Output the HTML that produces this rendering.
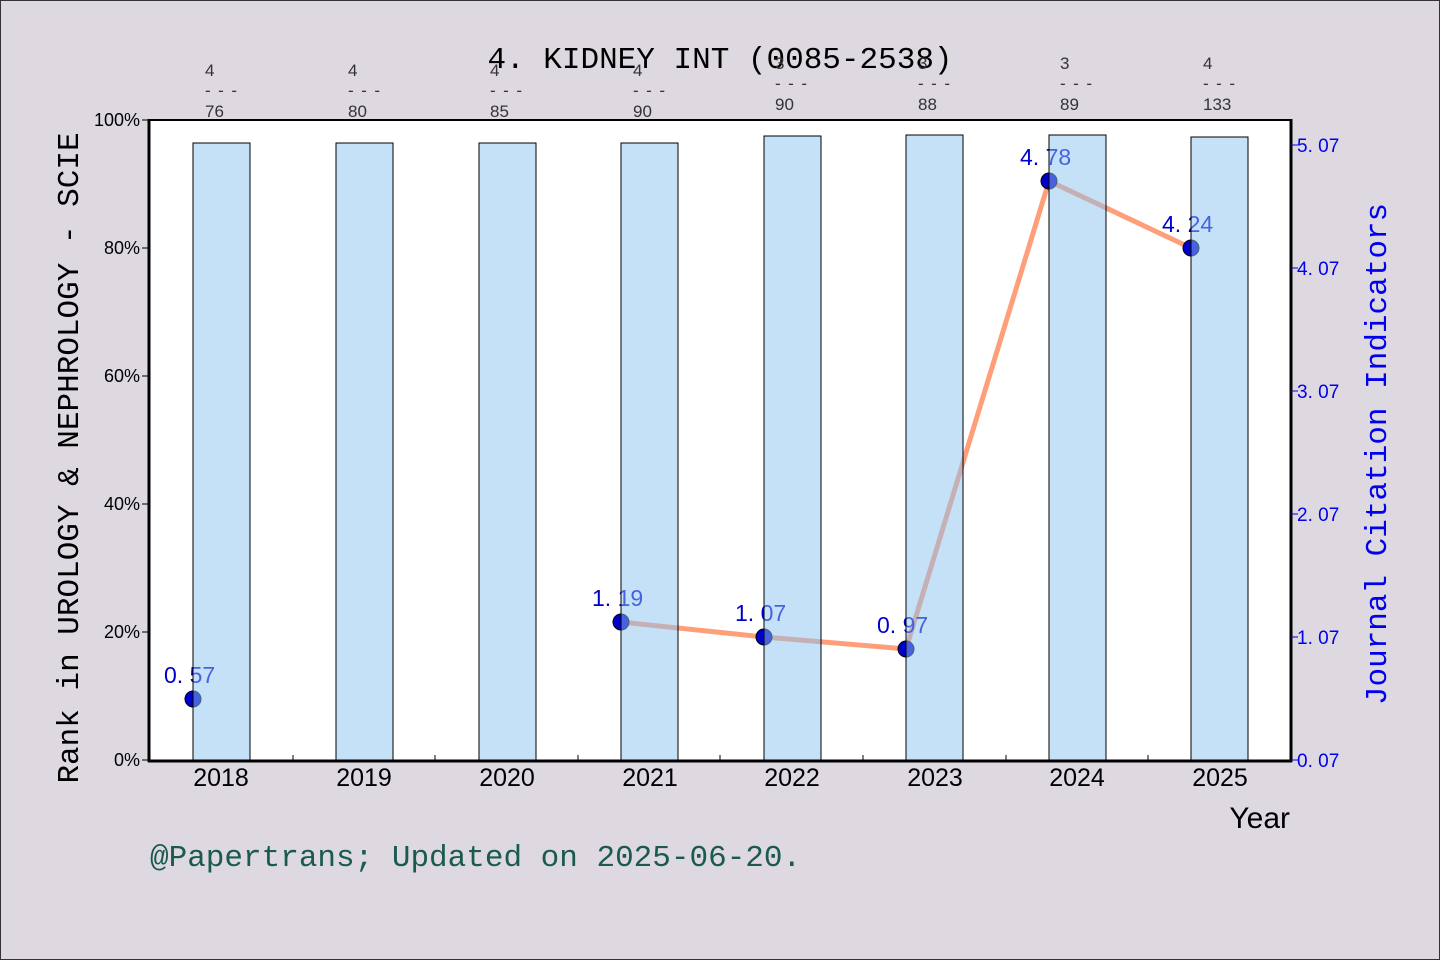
<!DOCTYPE html>
<html><head><meta charset="utf-8"><style>
html,body{margin:0;padding:0;background:#ded9e0;}
svg{display:block;}
</style></head><body>
<svg width="1440" height="960" viewBox="0 0 1440 960" xmlns="http://www.w3.org/2000/svg">
<rect x="0" y="0" width="1440" height="960" fill="#ded9e0" stroke="#333" stroke-width="2"/>
<rect x="149" y="120" width="1142" height="641" fill="#fff"/>
<g font-family="Liberation Mono, monospace">
<text x="720" y="68" font-size="31" text-anchor="middle" fill="#000">4. KIDNEY INT (0085-2538)</text>
<text transform="translate(78,458) rotate(-90)" font-size="31" text-anchor="middle" fill="#000">Rank in UROLOGY &amp; NEPHROLOGY - SCIE</text>
<text transform="translate(1386,454) rotate(-90)" font-size="31" text-anchor="middle" fill="#0000ee">Journal Citation Indicators</text>
<text x="150" y="866" font-size="31" fill="#1a5a50">@Papertrans; Updated on 2025-06-20.</text>
</g>
<polyline points="621,622 764,637 906,649 1049,181 1191,248" fill="none" stroke="#ff9f7a" stroke-width="5"/>
<g fill="#0000cc" stroke="#000" stroke-width="1">
<circle cx="193" cy="699" r="8"/><circle cx="621" cy="622" r="8"/><circle cx="764" cy="637" r="8"/>
<circle cx="906" cy="649" r="8"/><circle cx="1049" cy="181" r="8"/><circle cx="1191" cy="248" r="8"/>
</g>
<g font-family="Liberation Sans, sans-serif" font-size="23" fill="#0000cc">
<text x="164" y="683">0. 57</text><text x="592" y="606">1. 19</text><text x="735" y="621">1. 07</text>
<text x="877" y="633">0. 97</text><text x="1020" y="165">4. 78</text><text x="1162" y="232">4. 24</text>
</g>
<g fill="rgba(140,195,240,0.5)" stroke="#000" stroke-width="1">
<rect x="193" y="143" width="57" height="618"/>
<rect x="336" y="143" width="57" height="618"/>
<rect x="479" y="143" width="57" height="618"/>
<rect x="621" y="143" width="57" height="618"/>
<rect x="764" y="136" width="57" height="625"/>
<rect x="906" y="135" width="57" height="626"/>
<rect x="1049" y="135" width="57" height="626"/>
<rect x="1191" y="137" width="57" height="624"/>
</g>
<rect x="149" y="120" width="1142" height="641" fill="none" stroke="#000" stroke-width="2"/>
<line x1="149" y1="119" x2="149" y2="762" stroke="#000" stroke-width="3"/>
<line x1="148" y1="761" x2="1292" y2="761" stroke="#000" stroke-width="3"/>
<line x1="1291" y1="119" x2="1291" y2="762" stroke="#000" stroke-width="3"/>
<g stroke="#000" stroke-width="1">
<line x1="142" y1="120" x2="149" y2="120"/><line x1="142" y1="248" x2="149" y2="248"/>
<line x1="142" y1="376" x2="149" y2="376"/><line x1="142" y1="504" x2="149" y2="504"/>
<line x1="142" y1="632" x2="149" y2="632"/><line x1="142" y1="760" x2="149" y2="760"/>
<line x1="293" y1="755" x2="293" y2="761"/><line x1="435" y1="755" x2="435" y2="761"/>
<line x1="578" y1="755" x2="578" y2="761"/><line x1="720" y1="755" x2="720" y2="761"/>
<line x1="863" y1="755" x2="863" y2="761"/><line x1="1006" y1="755" x2="1006" y2="761"/>
<line x1="1148" y1="755" x2="1148" y2="761"/>
</g>
<g stroke="#0000ee" stroke-width="1">
<line x1="1291" y1="145" x2="1298" y2="145"/><line x1="1291" y1="268" x2="1298" y2="268"/>
<line x1="1291" y1="391" x2="1298" y2="391"/><line x1="1291" y1="514" x2="1298" y2="514"/>
<line x1="1291" y1="637" x2="1298" y2="637"/><line x1="1291" y1="760" x2="1298" y2="760"/>
</g>
<g font-family="Liberation Sans, sans-serif" font-size="18" fill="#000" text-anchor="end">
<text x="140" y="126">100%</text><text x="140" y="254">80%</text><text x="140" y="382">60%</text>
<text x="140" y="510">40%</text><text x="140" y="638">20%</text><text x="140" y="766">0%</text>
</g>
<g font-family="Liberation Sans, sans-serif" font-size="19" fill="#0000ee">
<text x="1297" y="152">5. 07</text><text x="1297" y="275">4. 07</text><text x="1297" y="398">3. 07</text>
<text x="1297" y="521">2. 07</text><text x="1297" y="644">1. 07</text><text x="1297" y="767">0. 07</text>
</g>
<g font-family="Liberation Sans, sans-serif" font-size="25" fill="#000" text-anchor="middle">
<text x="221" y="786">2018</text><text x="364" y="786">2019</text><text x="507" y="786">2020</text>
<text x="650" y="786">2021</text><text x="792" y="786">2022</text><text x="935" y="786">2023</text>
<text x="1077" y="786">2024</text><text x="1220" y="786">2025</text>
</g>
<text x="1290" y="828" font-family="Liberation Sans, sans-serif" font-size="30" text-anchor="end" fill="#000">Year</text>
<g font-family="Liberation Sans, sans-serif" font-size="17" fill="#333">
<text x="205" y="76">4</text><text x="205" y="96" textLength="32" lengthAdjust="spacing">---</text><text x="205" y="117">76</text>
<text x="348" y="76">4</text><text x="348" y="96" textLength="32" lengthAdjust="spacing">---</text><text x="348" y="117">80</text>
<text x="490" y="76">4</text><text x="490" y="96" textLength="32" lengthAdjust="spacing">---</text><text x="490" y="117">85</text>
<text x="633" y="76">4</text><text x="633" y="96" textLength="32" lengthAdjust="spacing">---</text><text x="633" y="117">90</text>
<text x="775" y="69">3</text><text x="775" y="89" textLength="32" lengthAdjust="spacing">---</text><text x="775" y="110">90</text>
<text x="918" y="69">3</text><text x="918" y="89" textLength="32" lengthAdjust="spacing">---</text><text x="918" y="110">88</text>
<text x="1060" y="69">3</text><text x="1060" y="89" textLength="32" lengthAdjust="spacing">---</text><text x="1060" y="110">89</text>
<text x="1203" y="69">4</text><text x="1203" y="89" textLength="32" lengthAdjust="spacing">---</text><text x="1203" y="110">133</text>
</g>
</svg>
</body></html>
